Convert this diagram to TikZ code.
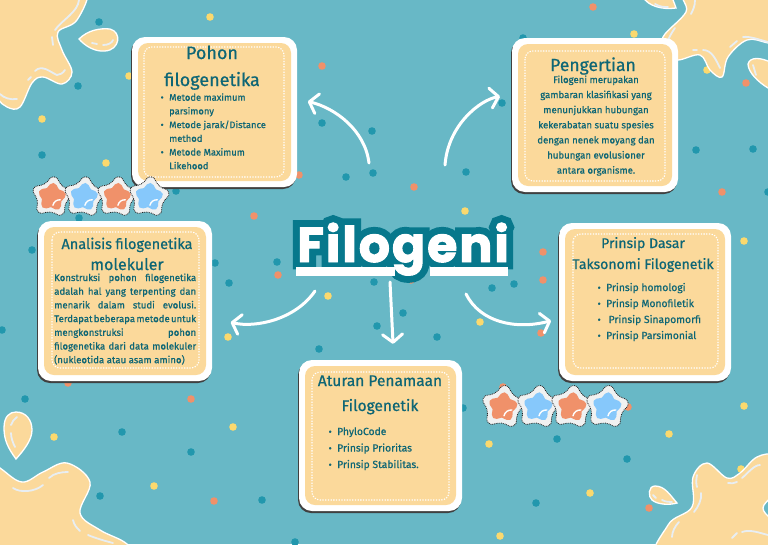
\documentclass[tikz,border=0pt]{standalone}
\usepackage{fontspec}
\setmainfont[FakeBold=.7]{Fira Sans}
\newfontfamily\headfont[FakeBold=2,LetterSpace=4]{Poppins Bold}
\newfontfamily\headhalo[FakeBold=30,LetterSpace=4]{Poppins Bold}
\usetikzlibrary{arrows.meta,calc}
\definecolor{sea}{HTML}{68B8C6}
\definecolor{sand}{HTML}{FBD99B}
\definecolor{ink}{HTML}{0E6675}
\definecolor{deep}{HTML}{07788C}
\definecolor{dotteal}{HTML}{2297AD}
\definecolor{dotcoral}{HTML}{F0916A}
\definecolor{dotgold}{HTML}{FBD96E}
\definecolor{gleam}{HTML}{E8EEF3}
\definecolor{skyblue}{HTML}{86C8FB}
\definecolor{halo}{HTML}{F0F1F1}
\tikzset{
  blob/.style={fill=sand,draw=white,line width=1.3pt},
  shine/.style={draw=gleam,line width=1.8pt,line cap=round},
  flow/.style={draw=white,line width=3pt,line cap=round,
    -{Straight Barb[length=8pt,width=20pt,round]}},
  heading/.style={text=ink,inner sep=0pt,anchor=base,font=\fontsize{16}{18}\selectfont},
  copytext/.style={text=ink,inner sep=0pt,font=\fontsize{9.6}{12}\selectfont},
  listtext/.style={text=ink,inner sep=0pt,anchor=base west,font=\fontsize{10.3}{12}\selectfont},
  cardbox/.style={fill=white,inner sep=0pt},
}
% Stacked lines with a fixed distance between baselines
\newcommand\midlines[3]{\vtop{\hsize=#1pt\baselineskip=#2pt\lineskiplimit=-100pt\parindent=0pt\centering #3\par}}
\newcommand\leftlines[3]{\vtop{\hsize=#1pt\baselineskip=#2pt\lineskiplimit=-100pt\parindent=0pt\raggedright #3\par}}
\newcommand\itemdot{\leavevmode\llap{{\fontsize{9.5}{9.5}\selectfont\textbullet}\hskip 5.5pt}}
\newcommand\fullline[1]{\leavevmode\hbox to 142pt{#1}}
% A card: shadow, white frame (the named node), sand panel, dotted seam
\newcommand\card[9]{%
  \pgfmathsetmacro\cw{#4-#2}\pgfmathsetmacro\ch{#5-#3}%
  \fill[black!75,rounded corners=13pt] (#2-1,#3+2) rectangle (#4-1,#5+2);
  \node[cardbox,rounded corners=13pt,minimum width=\cw pt,minimum height=\ch pt] (#1) at ({(#2+#4)/2},{(#3+#5)/2}) {};
  \fill[sand,rounded corners=10pt] (#2+6,#3+6) rectangle (#4-6,#5-6);
  \draw[white,line width=1.1pt,dash pattern=on 1.3pt off 1.4pt,rounded corners=8pt] (#6,#7) rectangle (#8,#9);
}
% A glossy star on a dotted, rounded patch
\newcommand\starmark[4]{%
  \begin{scope}[shift={(#1,#2)},scale=#4]
    \draw[fill=halo,draw=black!85,line width=.8pt,dash pattern=on .9pt off .9pt]
      plot[smooth cycle,tension=1,samples at={0,36,...,324},variable=\a]
        ({\a-84}:{ifthenelse(mod(\a,72)==0,22,16.5)});
    \fill[#3,line join=round,draw=#3,line width=8pt]
      plot[samples at={0,36,...,324},variable=\a]
        ({\a-84}:{ifthenelse(mod(\a,72)==0,11,6.5)}) -- cycle;
    \draw[white,line width=1.4pt,line cap=round] (1,9) .. controls (2,5) and (5,3) .. (9,3);
  \end{scope}%
}
\begin{document}
\begin{tikzpicture}[x=1pt,y=-1pt]
\useasboundingbox (0,0) rectangle (768,544);
\clip (0,0) rectangle (768,544);
\fill[sea] (0,0) rectangle (768,544);

% Confetti
\foreach \p in {(99,22),(78,86),(42,155),(79,218),(32,250),(2,330),(25,399),(122,432),(100,496),
  (176,191),(215,263),(229,283),(346,177),(373,173),(372,131),(322,123),(466,172),(277,262),(374,282),
  (403,313),(377,326),(437,337),(319,349),(492,288),(514,284),(523,38),(502,103),(696,150),(753,149),
  (768,192),(463,408),(191,452),(262,500),(295,542),(557,439),(627,459),(536,503)}
  \fill[dotteal] \p circle (3.8);
\foreach \p in {(322,66),(593,7),(746,83),(722,192),(299,175),(414,187),(278,275),(411,280),(543,252),
  (543,280),(541,333),(254,216),(68,383),(191,399),(214,501),(503,387),(628,407),(649,508)}
  \fill[dotcoral] \p circle (3.8);
\foreach \p in {(210,17),(129,76),(42,119),(106,163),(634,34),(707,70),(465,211),(328,296),(419,276),
  (480,322),(228,337),(744,241),(744,406),(669,434),(54,437),(154,486),(233,427),(489,444),(590,493),
  (500,536),(741,469)}
  \fill[dotgold] \p circle (3.8);

% Corner splashes and their droplets
\draw[blob] plot[smooth cycle,tension=.6] coordinates {(88,-12)(77,20)(58,32)(62,50)(72,72)(62,84)(43,77)(32,83)(20,107)(7,107)(-4,96)(-25,60)(-25,-25)(60,-25)};
\draw[blob] (79,39) .. controls (88,30) and (100,28) .. (110,29) .. controls (122,32) and (120,50) .. (105,51) .. controls (95,52) and (85,46) .. cycle;
\draw[blob] plot[smooth cycle,tension=.6] coordinates {(690,-12)(686,12)(663,37)(665,55)(678,60)(700,55)(710,70)(722,77)(728,57)(747,40)(768,43)(795,50)(795,-25)};
\draw[blob] (643,-3) .. controls (648,6) and (662,10) .. (676,8) .. controls (674,2) and (672,-3) .. (670,-6) -- cycle;
\draw[blob] (768,88) .. controls (758,82) and (748,72) .. (748,64) .. controls (750,56) and (762,58) .. (770,62) -- (785,90) -- cycle;
\draw[blob] plot[smooth cycle,tension=.6] coordinates {(-25,450)(0,468)(22,482)(43,472)(67,463)(90,482)(80,513)(100,530)(127,544)(140,565)(-25,565)};
\draw[blob] (16,459) .. controls (8,448) and (4,440) .. (4,428) .. controls (4,416) and (10,412) .. (16,412) .. controls (26,412) and (32,420) .. (32,430) .. controls (32,440) and (24,450) .. cycle;
\draw[blob] plot[smooth cycle,tension=.6] coordinates {(660,565)(668,525)(692,507)(693,477)(707,463)(727,478)(740,473)(757,457)(775,456)(785,480)(772,496)(763,508)(772,520)(795,540)(775,570)};
\draw[blob] (677,503) .. controls (670,495) and (665,486) .. (655,486) .. controls (648,486) and (648,497) .. (652,500) .. controls (658,505) and (670,505) .. cycle;

% Highlights on the splashes
\draw[shine] (79,0) .. controls (78,12) and (62,20) .. (55,30);
\draw[shine] (52,37) -- (53,45);
\draw[shine] (35,71) .. controls (42,64) and (50,72) .. (57,75) .. controls (60,75) and (63,73) .. (65,70);
\draw[shine] (28,80) -- (31,77);
\draw[shine] (0,94) .. controls (4,98) and (10,100) .. (17,99);
\draw[shine] (92,43) -- (97,44);
\draw[shine] (103,45) .. controls (108,45) and (112,43) .. (113,40);
\draw[shine] (695,0) .. controls (695,6) and (693,10) .. (691,14);
\draw[shine] (675,28) .. controls (672,32) and (670,36) .. (668,40);
\draw[shine] (693,50) -- (697,50);
\draw[shine] (703,50) .. controls (712,50) and (716,60) .. (720,68);
\draw[shine] (730,47) -- (737,41);
\draw[shine] (743,37) .. controls (750,36) and (760,40) .. (768,42);
\draw[shine] (655,4) .. controls (660,7) and (664,7) .. (668,7);
\draw[shine] (753,65) -- (756,75);
\draw[shine] (17,417) .. controls (14,419) and (12,422) .. (11,425);
\draw[shine] (11,433) .. controls (11,438) and (13,443) .. (15,447);
\draw[shine] (13,488) .. controls (20,493) and (35,492) .. (43,485);
\draw[shine] (49,478) .. controls (54,473) and (62,472) .. (68,472);
\draw[shine] (73,520) .. controls (74,525) and (77,528) .. (80,531);
\draw[shine] (88,535) .. controls (95,538) and (105,541) .. (113,543);
\draw[shine] (697,475) .. controls (696,480) and (696,484) .. (697,487);
\draw[shine] (701,493) .. controls (702,500) and (698,507) .. (694,512);
\draw[shine] (679,522) .. controls (675,526) and (672,532) .. (672,537);
\draw[shine] (728,483) .. controls (731,484) and (734,483) .. (737,482);
\draw[shine] (742,478) .. controls (748,473) and (754,465) .. (760,465);
\draw[shine] (732,538) -- (737,533);
\draw[shine] (742,532) .. controls (750,529) and (760,533) .. (768,535);
\draw[shine] (653,495) -- (656,498);
\draw[shine] (662,500) .. controls (666,502) and (669,502) .. (672,502);

% Cards
\card{pohon}{132}{37}{297}{187}{144}{47}{284}{177}
\card{analisis}{38}{221}{212}{381}{52}{232}{199}{368}
\card{pengertian}{512}{38}{678}{192}{525}{51}{665}{181}
\card{prinsip}{559}{223}{731}{381}{573}{234}{718}{368}
\card{aturan}{299}{360}{462}{511}{312}{372}{449}{500}

% Card texts
\node[heading,font=\fontsize{18}{20}\selectfont] (pohonhead) at (212,59) {\midlines{150}{27}{Pohon\\filogenetika}};
\node[listtext,font=\fontsize{9.4}{12}\selectfont] (pohonlist) at (169,100.7) {\leftlines{110}{13.7}{\itemdot Metode maximum\\parsimony\\\itemdot Metode jarak/Distance\\method\\\itemdot Metode Maximum\\Likehood}};

\node[heading,font=\fontsize{14.5}{18}\selectfont] (analisishead) at (127,249) {\midlines{150}{21}{\leavevmode\hbox to 131pt{Analisis\hfill filogenetika}\\{\fontsize{16}{18}\selectfont molekuler}}};
\node[copytext,anchor=base west] (analisisbody) at (54,281) {\leftlines{150}{13.7}{%
  \fullline{Konstruksi\hfill pohon\hfill filogenetika}\\
  \fullline{adalah\hfill hal\hfill yang\hfill terpenting\hfill dan}\\
  \fullline{menarik\hfill dalam\hfill studi\hfill evolusi.}\\
  \fullline{Terdapat\hfill beberapa\hfill metode\hfill untuk}\\
  \fullline{mengkonstruksi\hfill pohon}\\
  \fullline{filogenetika\hfill dari\hfill data\hfill molekuler}\\
  (nukleotida atau asam amino)}};

\node[heading,font=\fontsize{17.5}{20}\selectfont] (pengertianhead) at (593,71) {Pengertian};
\node[copytext,anchor=base] (pengertianbody) at (596,83) {\midlines{140}{15.1}{Filogeni merupakan\\gambaran klasifikasi yang\\menunjukkan hubungan\\kekerabatan suatu spesies\\dengan nenek moyang dan\\hubungan evolusioner\\antara organisme.}};

\node[heading,font=\fontsize{14}{18}\selectfont] (prinsiphead) at (643,248) {\midlines{160}{21}{Prinsip Dasar\\Taksonomi Filogenetik}};
\node[listtext] (prinsiplist) at (606,291) {\leftlines{110}{16}{\itemdot Prinsip homologi\\\itemdot Prinsip Monofiletik\\\itemdot\hskip 2.5pt Prinsip Sinapomorfi\\\itemdot Prinsip Parsimonial}};

\node[heading,font=\fontsize{15.5}{18}\selectfont] (aturanhead) at (380,386) {\midlines{150}{25}{Aturan Penamaan\\Filogenetik}};
\node[listtext] (aturanlist) at (337,435) {\leftlines{100}{16.5}{\itemdot PhyloCode\\\itemdot Prinsip Prioritas\\\itemdot Prinsip Stabilitas.}};

% Star rows
\foreach \x/\c in {52/dotcoral,84/skyblue,117/dotcoral,149/skyblue} \starmark{\x}{197}{\c}{.92};
\foreach \x/\c in {503/dotcoral,538/skyblue,572/dotcoral,607/skyblue} \starmark{\x}{407}{\c}{.98};

% Title: thick outline, underlines, then the white letters
\node[inner sep=0pt,anchor=base,text=deep,font=\fontsize{49}{54}\headhalo] (titleback) at (403,262) {Filogeni};
\fill[white] (296,267) rectangle (395,276);
\fill[white] (430,267) rectangle (508,276);
\node[inner sep=0pt,anchor=base,text=white,font=\fontsize{49}{54}\headfont] (title) at (403,262) {Filogeni};

% Arrows from the title out to the cards
\coordinate (tailpohon) at (369,163);
\coordinate (tailpengertian) at (445,165);
\coordinate (tailanalisis) at (315,291);
\coordinate (tailaturan) at (390,282);
\coordinate (tailprinsip) at (466,294);
\draw[flow,shorten >=11pt] (tailpohon) .. controls (365,130) and (335,108) .. (pohon.9.6);
\draw[flow,shorten >=12pt] (tailpengertian) .. controls (448,125) and (480,100) .. (pengertian.166.5);
\draw[flow,shorten >=19pt] (tailanalisis) .. controls (295,320) and (255,328) .. (analisis.-11);
\draw[flow,shorten >=16pt] (tailaturan) -- (aturan.80.6);
\draw[flow,shorten >=8pt] (tailprinsip) .. controls (480,322) and (515,330) .. (prinsip.191.2);
\end{tikzpicture}
\end{document}
